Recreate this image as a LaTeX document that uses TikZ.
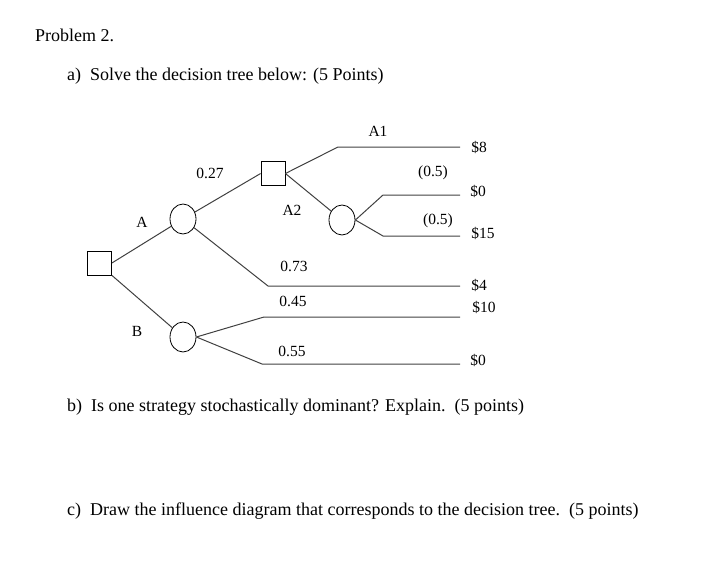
\documentclass[tikz,border=0pt]{standalone}
\usepackage{fontspec}
\setmainfont{Liberation Serif}
\usetikzlibrary{shapes.geometric}
\begin{document}
\begin{tikzpicture}[x=1pt,y=-1pt,
  ln/.style={draw=black!75,line width=1pt},
  sq/.style={draw,minimum size=24pt,inner sep=0,line width=0.8pt},
  ci/.style={draw,ellipse,minimum width=26pt,minimum height=30pt,inner sep=0,line width=0.8pt},
  lb/.style={font=\fontsize{15.5}{18}\selectfont,inner sep=0},
  tx/.style={font=\fontsize{18}{21}\selectfont,anchor=west,inner sep=0}]
\useasboundingbox (0,0) rectangle (719,562);
\node[tx] (p) at (35,35) {Problem 2.};
\node[tx] (qa) at (67,76) {a)\hspace{9pt}Solve the decision tree below: (5 Points)};
\node[tx] (qb) at (67,407) {b)\hspace{9pt}Is one strategy stochastically dominant? Explain.\ \ (5 points)};
\node[tx] (qc) at (67,511) {c)\hspace{9pt}Draw the influence diagram that corresponds to the decision tree.\ \ (5 points)};
\node[sq] (r) at (99.5,263) {};
\node[ci] (ca) at (183,219) {};
\node[ci] (cb) at (183,337) {};
\node[sq] (s2) at (273,173.5) {};
\node[ci] (c2) at (342,220) {};
\coordinate (k1) at (338,147); \coordinate (e1) at (460,147);
\coordinate (k2) at (383,195); \coordinate (e2) at (460,195);
\coordinate (k3) at (383,236); \coordinate (e3) at (460,236);
\coordinate (k4) at (268,286); \coordinate (e4) at (460,286);
\coordinate (k5) at (264,317); \coordinate (e5) at (460,317);
\coordinate (k6) at (262,364); \coordinate (e6) at (460,364);
\draw[ln] (r.east) -- (ca);
\draw[ln] (r.south east) -- (cb);
\draw[ln] (ca) -- (s2.west);
\draw[ln] (ca) -- (k4) -- (e4);
\draw[ln] (s2.east) -- (k1) -- (e1);
\draw[ln] (s2.east) -- (c2);
\draw[ln] (c2.east) -- (k2) -- (e2);
\draw[ln] (c2.east) -- (k3) -- (e3);
\draw[ln] (cb.east) -- (k5) -- (e5);
\draw[ln] (cb.east) -- (k6) -- (e6);
\node[lb] (v1) at (479,147) {\$8};
\node[lb] (v2) at (478,191) {\$0};
\node[lb] (v3) at (483,233) {\$15};
\node[lb] (v4) at (479,285) {\$4};
\node[lb] (v5) at (484,307) {\$10};
\node[lb] (v6) at (478,360) {\$0};
\node[lb] (la1) at (378,131) {A1};
\node[lb] (la2) at (292,210) {A2};
\node[lb] (l27) at (210,173) {0.27};
\node[lb] (lA) at (142,222) {A};
\node[lb] (lB) at (137,331) {B};
\node[lb] (lp1) at (433,173) {(0.5)};
\node[lb] (lp2) at (438,221) {(0.5)};
\node[lb] (l73) at (294,266) {0.73};
\node[lb] (l45) at (293,301) {0.45};
\node[lb] (l55) at (292,351) {0.55};
\end{tikzpicture}
\end{document}
